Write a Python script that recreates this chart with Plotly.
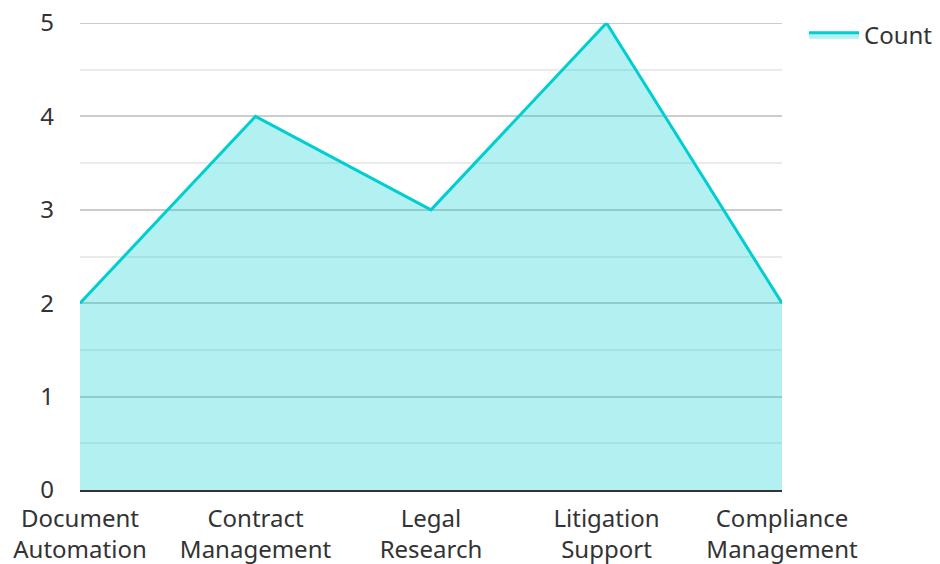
import plotly.graph_objects as go

categories = ["Document<br>Automation", "Contract<br>Management", "Legal<br>Research",
              "Litigation<br>Support", "Compliance<br>Management"]
counts = [2, 4, 3, 5, 2]
y_ticks = [0, 1, 2, 3, 4, 5]

fig = go.Figure()
fig.add_trace(go.Scatter(
    x=categories, y=counts, name="Count", mode="lines",
    line=dict(color="#00CED1", width=3),
    fill="tozeroy", fillcolor="rgba(0,206,209,0.3)",
))

# top gridline (plotly omits gridlines that sit on the plot edge)
fig.add_shape(type="line", xref="paper", x0=0, x1=1, yref="y",
              y0=y_ticks[-1], y1=y_ticks[-1],
              line=dict(color="#cccccc", width=2), layer="below")

fig.update_layout(
    width=940, height=564,
    margin=dict(l=72, r=166, t=15, b=82),
    paper_bgcolor="white", plot_bgcolor="white",
    font=dict(family="Noto Sans", size=24, color="#333333"),
    showlegend=True,
    legend=dict(xref="container", yref="container", x=0.8468, y=0.952,
                xanchor="left", yanchor="middle", itemwidth=50,
                font=dict(size=24), bgcolor="rgba(0,0,0,0)"),
    xaxis=dict(showgrid=False, showline=True, linecolor="#333333", linewidth=2,
               ticks="", zeroline=False, range=[0, 4], tickangle=0, automargin=False,
               ticklabelstandoff=6, ticklabeloverflow="allow"),
    yaxis=dict(range=[0, 5], tickvals=y_ticks, showgrid=True, gridcolor="#cccccc",
               gridwidth=2, zeroline=False, showline=False, ticks="",
               minor=dict(dtick=0.5, showgrid=True, gridcolor="#ebebeb", gridwidth=2),
               ticklabelstandoff=25, automargin=False, ticklabeloverflow="allow"),
)
fig.write_html("out.html")
